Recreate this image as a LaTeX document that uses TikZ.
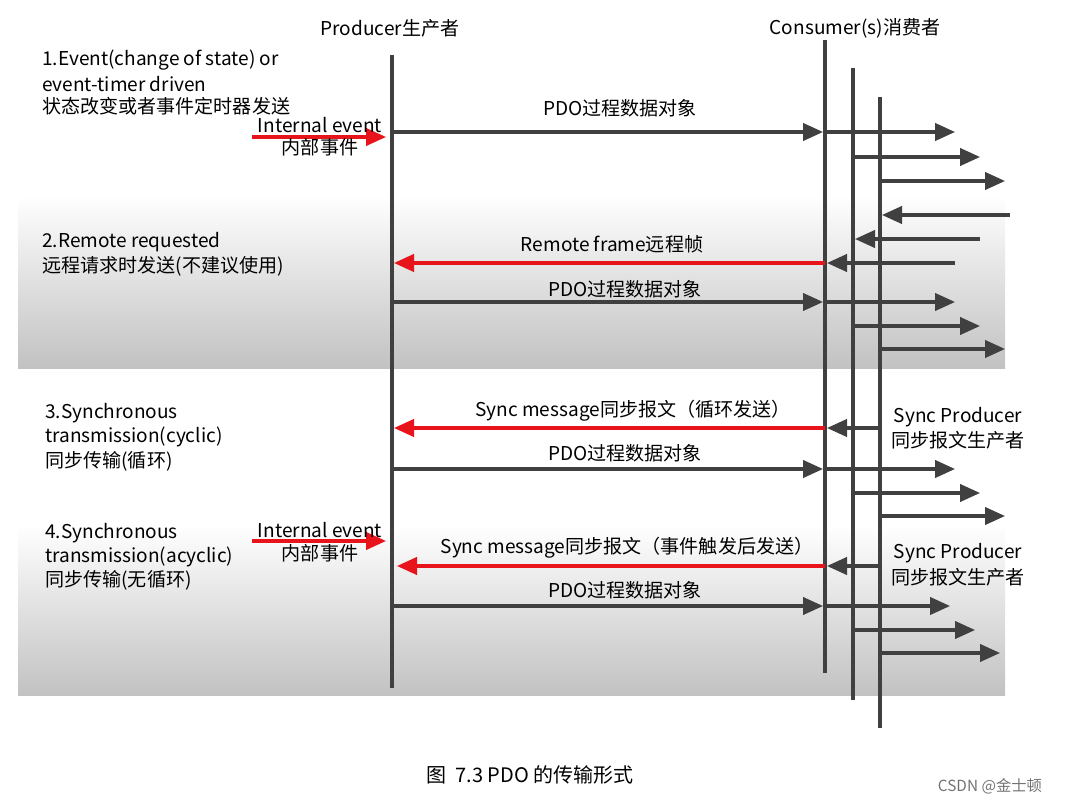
\documentclass[tikz,border=0pt]{standalone}
\usepackage{fontspec}
\setmainfont{Noto Sans CJK SC}
\usetikzlibrary{arrows.meta}
\definecolor{dk}{HTML}{404040}
\definecolor{rd}{HTML}{E8141B}
\begin{document}
\begin{tikzpicture}[x=0.75pt,y=-0.75pt,
  ln/.style={draw=dk,line width=3pt},
  ar/.style={draw=dk,line width=2.3pt,-{Triangle[length=15pt,width=13pt]}},
  rar/.style={draw=rd,line width=2.3pt,-{Triangle[length=15pt,width=13pt]}},
  tx/.style={font=\fontsize{14.3}{16}\selectfont,inner sep=0pt},
  lt/.style={tx,anchor=west},
  band/.style={top color=white,bottom color=black!24,draw=none}]
\useasboundingbox (0,0) rectangle (1066,805);
\fill[band] (18,195) rectangle (1005,368);
\fill[band] (18,525) rectangle (1005,695);
% lifelines
\coordinate (p0) at (392,55); \coordinate (p1) at (392,688);
\coordinate (c0) at (825,40); \coordinate (c1) at (825,673);
\coordinate (d0) at (853,68); \coordinate (d1) at (853,700);
\coordinate (e0) at (880,97); \coordinate (e1) at (880,728);
\draw[ln] (p0)--(p1); \draw[ln] (c0)--(c1); \draw[ln] (d0)--(d1); \draw[ln] (e0)--(e1);
\node[tx] (hp) at (390,28) {Producer生产者};
\node[tx] (hc) at (855,28) {Consumer(s)消费者};
% texts left
\node[lt] (t1a) at (42,60) {1.Event(change of state) or};
\node[lt] (t1b) at (42,84) {event-timer driven};
\node[lt] (t1c) at (42,106) {状态改变或者事件定时器发送};
\node[lt] (t2a) at (42,242) {2.Remote requested};
\node[lt] (t2b) at (42,266) {远程请求时发送(不建议使用)};
\node[lt] (t3a) at (45,413) {3.Synchronous};
\node[lt] (t3b) at (45,437) {transmission(cyclic)};
\node[lt] (t3c) at (45,461) {同步传输(循环)};
\node[lt] (t4a) at (45,533) {4.Synchronous};
\node[lt] (t4b) at (45,557) {transmission(acyclic)};
\node[lt] (t4c) at (45,580) {同步传输(无循环)};
% row 1
\draw[rar] (252,137)--(386,137);
\node[tx] (ie1) at (320,125) {Internal event};
\node[tx] (ie1b) at (320,147) {内部事件};
\draw[ar] (392,132)--(823,132);
\node[tx] (l1) at (620,108) {PDO过程数据对象};
\draw[ar] (825,132)--(955,132);
\draw[ar] (853,157)--(980,157);
\draw[ar] (880,181)--(1005,181);
% row 2
\draw[ar] (1010,215)--(882,215);
\draw[ar] (980,239)--(855,239);
\draw[ar] (955,263)--(827,263);
\draw[rar] (825,263)--(394,263);
\node[tx] (l2) at (612,244) {Remote frame远程帧};
\draw[ar] (392,302)--(823,302);
\node[tx] (l2b) at (625,289) {PDO过程数据对象};
\draw[ar] (825,302)--(955,302);
\draw[ar] (853,326)--(980,326);
\draw[ar] (880,349)--(1005,349);
% row 3
\draw[ar] (880,428)--(827,428);
\draw[rar] (825,428)--(394,428);
\node[tx] (l3) at (633,411) {Sync message同步报文（循环发送）};
\node[tx] (sp1) at (958,417) {Sync Producer};
\node[tx] (sp1b) at (958,440) {同步报文生产者};
\draw[ar] (392,469)--(823,469);
\node[tx] (l3b) at (625,453) {PDO过程数据对象};
\draw[ar] (825,469)--(955,469);
\draw[ar] (853,493)--(980,493);
\draw[ar] (880,516)--(1005,516);
% row 4
\draw[rar] (252,541)--(386,541);
\node[tx] (ie2) at (320,530) {Internal event};
\node[tx] (ie2b) at (320,553) {内部事件};
\draw[ar] (880,566)--(827,566);
\draw[rar] (825,566)--(397,566);
\node[tx] (l4) at (627,548) {Sync message同步报文（事件触发后发送）};
\node[tx] (sp2) at (958,553) {Sync Producer};
\node[tx] (sp2b) at (958,577) {同步报文生产者};
\draw[ar] (392,606)--(823,606);
\node[tx] (l4b) at (625,590) {PDO过程数据对象};
\draw[ar] (825,606)--(950,606);
\draw[ar] (853,630)--(975,630);
\draw[ar] (880,653)--(1000,653);
\node[tx,font=\fontsize{15}{17}\selectfont] (cap) at (530,775) {图\ \ 7.3 PDO 的传输形式};
\node[tx,text=black!55,font=\fontsize{11.5}{13}\selectfont] (cs) at (990,786) {CSDN @金士顿};
\end{tikzpicture}
\end{document}
